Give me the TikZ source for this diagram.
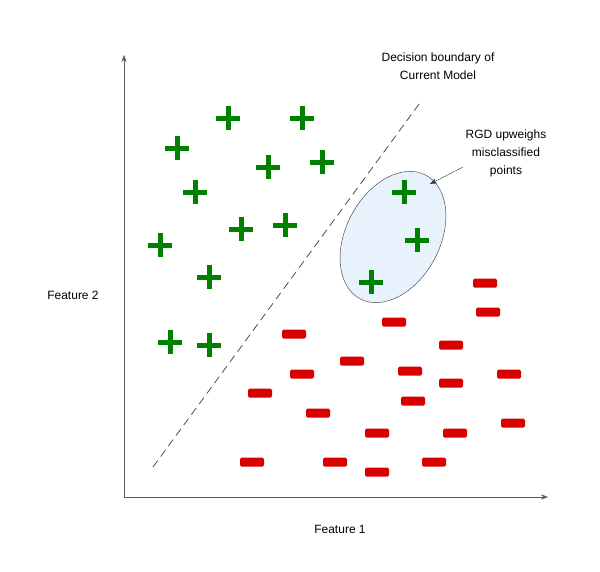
\documentclass[tikz,border=0pt]{standalone}
\usepackage{fontspec}
\setmainfont{Liberation Sans}
\usetikzlibrary{arrows.meta}
\definecolor{regionblue}{RGB}{232,242,252}
\tikzset{
  plusmark/.style={draw=green!50!black,line width=5pt},
  minusmark/.style={fill=red!85!black,rounded corners=1.5pt},
  lbl/.style={font=\fontsize{12}{18}\selectfont,align=center}
}
\begin{document}
\begin{tikzpicture}[x=1pt,y=-1pt]
\useasboundingbox (0,0) rectangle (600,571);
% axes
\coordinate (o) at (124,497);
\coordinate (ytop) at (124,55);
\coordinate (xend) at (548,497);
\draw[gray!70!black,-{Stealth[length=7pt]}] (o) -- (ytop);
\draw[gray!70!black,-{Stealth[length=7pt]}] (o) -- (xend);
\node[lbl] (f2) at (73,295) {Feature 2};
\node[lbl] (f1) at (340,529) {Feature 1};
% boundary
\coordinate (b1) at (153,467);
\coordinate (b2) at (422,100);
\draw[gray!60!black,line width=0.8pt,dash pattern=on 8pt off 5pt] (b1) -- (b2);
\node[lbl] (db) at (438,66) {Decision boundary of\\Current Model};
% upweighted region
\draw[fill=regionblue,draw=black!80] (393,237) ellipse [x radius=47pt, y radius=70pt, rotate=-28];
\node[lbl] (rgd) at (506,153) {RGD upweighs\\misclassified\\points};
\coordinate (tip) at (430,184);
\draw[black!80,-{Stealth[length=7pt]}] (463,167) -- (tip);
% positives
\foreach \x/\y in {228/118,302/118,177/148,268/167,322/162,195/192,404/192,241/229,
  285/225,160/245,417/240,209/277,371/282,170/342,209/345}
  \draw[plusmark] (\x-12,\y) -- (\x+12,\y) (\x,\y-12) -- (\x,\y+12);
% negatives
\foreach \x/\y in {485/283,488/312,394/322,294/334,451/345,352/361,302/374,410/371,
  451/383,509/374,260/393,413/401,318/413,377/433,455/433,513/423,252/462,335/462,
  377/472,434/462}
  \fill[minusmark] (\x-12,\y-4.5) rectangle (\x+12,\y+4.5);
\end{tikzpicture}
\end{document}
